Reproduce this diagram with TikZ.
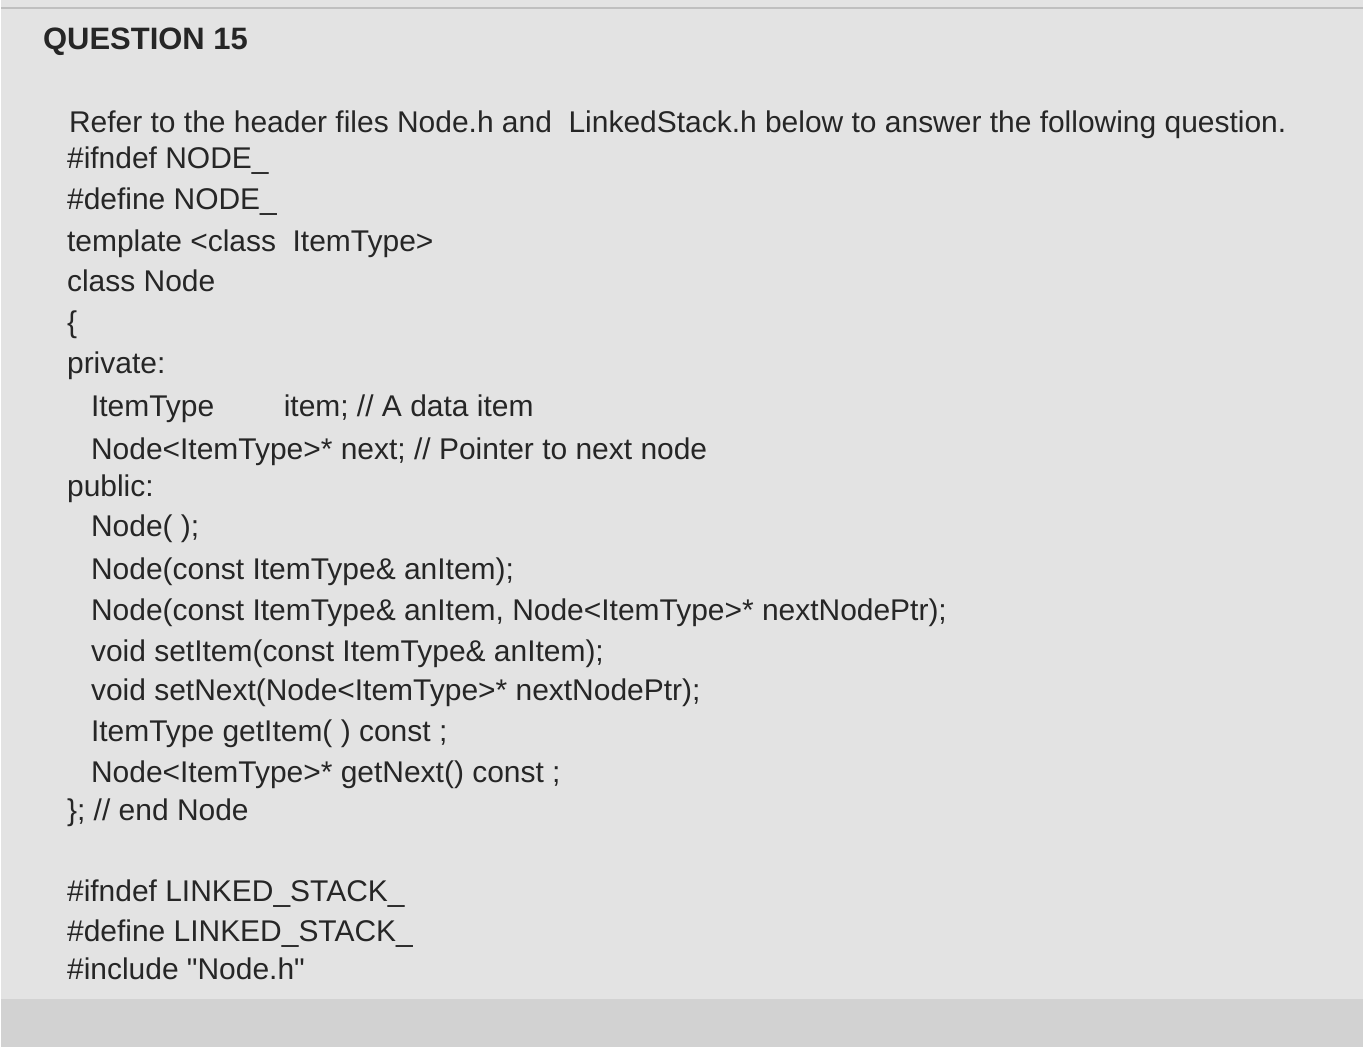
\documentclass[tikz,border=0pt]{standalone}
\usepackage{fontspec}
\setmainfont{Liberation Sans}[Ligatures=TeXOff]
\begin{document}
\begin{tikzpicture}[x=1pt,y=-1pt,
  txt/.style={anchor=base west,inner sep=0pt,font=\fontsize{30}{34}\selectfont,text=black!85,yshift=-11pt},
  head/.style={anchor=west,inner sep=0pt,font=\bfseries\fontsize{31}{34}\selectfont,text=black!85}]
\fill[gray!22] (0,0) rectangle (1364,1049);
\fill[gray!35] (0,1000) rectangle (1364,1049);
\draw[gray!50,line width=2pt] (0,8) -- (1364,8);
\node[head] (q) at (42,42) {QUESTION 15};
\node[txt] (l0) at (68,122) {Refer to the header files Node.h and\ \ LinkedStack.h below to answer the following question.};
\node[txt] (l1) at (66,158) {\#ifndef NODE\_};
\node[txt] (l2) at (66,199) {\#define NODE\_};
\node[txt] (l3) at (66,241) {template <class\ \ ItemType>};
\node[txt] (l4) at (66,281) {class Node};
\node[txt] (l5) at (66,322) {\{};
\node[txt] (l6) at (66,363) {private:};
\node[txt] (l7) at (90,406) {ItemType};
\node[txt] (l7b) at (283,406) {item; // A data item};
\node[txt] (l8) at (90,449) {Node<ItemType>* next; // Pointer to next node};
\node[txt] (l9) at (66,486) {public:};
\node[txt] (l10) at (90,526) {Node( );};
\node[txt] (l11) at (90,569) {Node(const ItemType\& anItem);};
\node[txt] (l12) at (90,610) {Node(const ItemType\& anItem, Node<ItemType>* nextNodePtr);};
\node[txt] (l13) at (90,651) {void setItem(const ItemType\& anItem);};
\node[txt] (l14) at (90,691) {void setNext(Node<ItemType>* nextNodePtr);};
\node[txt] (l15) at (90,732) {ItemType getItem( ) const ;};
\node[txt] (l16) at (90,773) {Node<ItemType>* getNext() const ;};
\node[txt] (l17) at (66,811) {\}; // end Node};
\node[txt] (l18) at (66,892) {\#ifndef LINKED\_STACK\_};
\node[txt] (l19) at (66,932) {\#define LINKED\_STACK\_};
\node[txt] (l20) at (66,970) {\#include "Node.h"};
\useasboundingbox (0,0) rectangle (1364,1049);
\end{tikzpicture}
\end{document}
